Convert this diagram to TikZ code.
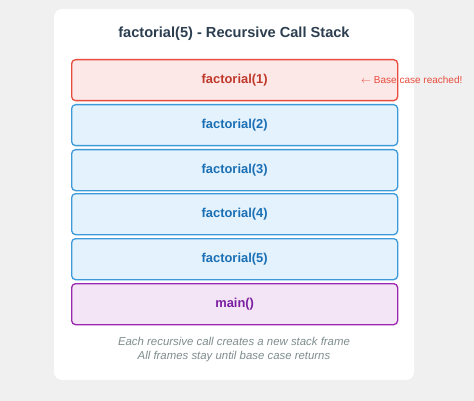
\documentclass[tikz,border=0pt]{standalone}
\usepackage{fontspec}
\setmainfont{Liberation Sans}
\definecolor{bgc}{HTML}{F0F0F0}
\definecolor{titlec}{HTML}{2C3E50}
\definecolor{redfill}{HTML}{FDE8E8}
\definecolor{redline}{HTML}{E74C3C}
\definecolor{redtext}{HTML}{C0392B}
\definecolor{bluefill}{HTML}{E3F2FD}
\definecolor{blueline}{HTML}{3D9AD9}
\definecolor{bluetext}{HTML}{1A6FB5}
\definecolor{purpfill}{HTML}{F3E5F5}
\definecolor{purpline}{HTML}{9C27B0}
\definecolor{purptext}{HTML}{7B1FA2}
\definecolor{capc}{HTML}{7F8C8D}
\begin{document}
\begin{tikzpicture}[x=1pt,y=-1pt,
  frame/.style={draw, line width=1.3pt, rounded corners=4pt, minimum width=326pt, minimum height=41pt, inner sep=0pt, anchor=north west, font=\bfseries\fontsize{12.9}{15}\selectfont},
  redframe/.style={frame, fill=redfill, draw=redline, text=redtext},
  blueframe/.style={frame, fill=bluefill, draw=blueline, text=bluetext},
  purpframe/.style={frame, fill=purpfill, draw=purpline, text=purptext}]
\useasboundingbox (0,0) rectangle (474,401);
\fill[bgc] (0,0) rectangle (474,401);
\fill[black!6, rounded corners=8pt] (55,11) rectangle (416,383);
\fill[white, rounded corners=8pt] (54,9) rectangle (414,380);
\node[font=\bfseries\fontsize{14.6}{17}\selectfont, text=titlec] (title) at (234,34) {factorial(5) - Recursive Call Stack};
\node[redframe] (f1) at (71,59) {factorial(1)};
\node[blueframe] (f2) at (71,104) {factorial(2)};
\node[blueframe] (f3) at (71,149) {factorial(3)};
\node[blueframe] (f4) at (71,193) {factorial(4)};
\node[blueframe] (f5) at (71,238) {factorial(5)};
\node[purpframe] (m) at (71,283) {main()};
\node[anchor=west, text=redline, font=\fontsize{10}{12}\selectfont, inner sep=0pt] (bc) at (361,80) {$\leftarrow$ Base case reached!};
\node[text=capc, font=\itshape\fontsize{11.4}{14.5}\selectfont, align=center] (cap) at (234,349.5) {Each recursive call creates a new stack frame\\All frames stay until base case returns};
\end{tikzpicture}
\end{document}
